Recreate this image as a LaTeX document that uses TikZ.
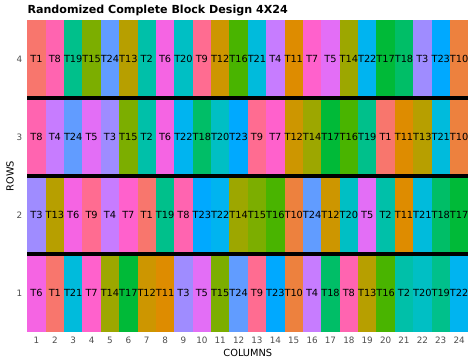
\documentclass[tikz,border=0pt]{standalone}
\usepackage{fontspec}
\setmainfont{DejaVu Sans}
\usepackage{tikz}
\usetikzlibrary{calc}
\definecolor{TickGray}{RGB}{77,77,77}
\definecolor{T1}{HTML}{F8766D}
\definecolor{T10}{HTML}{ED813E}
\definecolor{T11}{HTML}{DE8C00}
\definecolor{T12}{HTML}{CD9600}
\definecolor{T13}{HTML}{B79F00}
\definecolor{T14}{HTML}{9DA700}
\definecolor{T15}{HTML}{7CAE00}
\definecolor{T16}{HTML}{49B400}
\definecolor{T17}{HTML}{00BA38}
\definecolor{T18}{HTML}{00BE67}
\definecolor{T19}{HTML}{00C08B}
\definecolor{T2}{HTML}{00C0A9}
\definecolor{T20}{HTML}{00BFC4}
\definecolor{T21}{HTML}{00BBDC}
\definecolor{T22}{HTML}{00B4F0}
\definecolor{T23}{HTML}{00A9FF}
\definecolor{T24}{HTML}{619CFF}
\definecolor{T3}{HTML}{9F8CFF}
\definecolor{T4}{HTML}{C77CFF}
\definecolor{T5}{HTML}{E36EF6}
\definecolor{T6}{HTML}{F564E3}
\definecolor{T7}{HTML}{FF61CC}
\definecolor{T8}{HTML}{FF64B0}
\definecolor{T9}{HTML}{FF6C91}

\begin{document}
\begin{tikzpicture}[x=1pt, y=-1pt,
		tile/.style={draw=none, shape=rectangle, inner sep=0pt, outer sep=0pt, minimum width=18.375pt, minimum height=78pt, font=\fontsize{9.8}{10}\selectfont},
		ticklabel/.style={text=TickGray, inner sep=0pt, font=\fontsize{8.8}{9}\selectfont},
		axistitle/.style={inner sep=0pt, font=\fontsize{9.8}{10}\selectfont}]
			\useasboundingbox (0, 0) rectangle (474, 362);
			\node [anchor=base west, inner sep=0pt, font=\bfseries\fontsize{11.1}{12}\selectfont] (title) at (27.3, 13) {Randomized Complete Block Design 4X24};
			% blocks, top row first
			\foreach \t [count=\c] in {T1,T8,T19,T15,T24,T13,T2,T6,T20,T9,T12,T16,T21,T4,T11,T7,T5,T14,T22,T17,T18,T3,T23,T10}
				\node [tile, fill=\t] (r4c\c) at ({27.3+18.375*(\c-0.5)}, 59) {\makebox[0pt]{\t}};
			\foreach \t [count=\c] in {T8,T4,T24,T5,T3,T15,T2,T6,T22,T18,T20,T23,T9,T7,T12,T14,T17,T16,T19,T1,T11,T13,T21,T10}
				\node [tile, fill=\t] (r3c\c) at ({27.3+18.375*(\c-0.5)}, 137) {\makebox[0pt]{\t}};
			\foreach \t [count=\c] in {T3,T13,T6,T9,T4,T7,T1,T19,T8,T23,T22,T14,T15,T16,T10,T24,T12,T20,T5,T2,T11,T21,T18,T17}
				\node [tile, fill=\t] (r2c\c) at ({27.3+18.375*(\c-0.5)}, 215) {\makebox[0pt]{\t}};
			\foreach \t [count=\c] in {T6,T1,T21,T7,T14,T17,T12,T11,T3,T5,T15,T24,T9,T23,T10,T4,T18,T8,T13,T16,T2,T20,T19,T22}
				\node [tile, fill=\t] (r1c\c) at ({27.3+18.375*(\c-0.5)}, 293) {\makebox[0pt]{\t}};
			% block borders
			\draw [line width=3.5pt] (r4c1.south west) -- (r4c24.south east);
			\draw [line width=3.5pt] (r3c1.south west) -- (r3c24.south east);
			\draw [line width=3.5pt] (r2c1.south west) -- (r2c24.south east);
			% axes
			\foreach \r in {1,...,4}
				\node [ticklabel, anchor=east] (row\r) at (22.5, {20+78*(4-\r)+39}) {\r};
			\foreach \c in {1,...,24}
				\node [ticklabel] (col\c) at ({27.3+18.375*(\c-0.5)}, 340.5) {\c};
			\node [axistitle, rotate=90] (rows) at (10, 176) {ROWS};
			\node [axistitle] (columns) at (247.8, 352.5) {COLUMNS};
		\end{tikzpicture}
\end{document}
